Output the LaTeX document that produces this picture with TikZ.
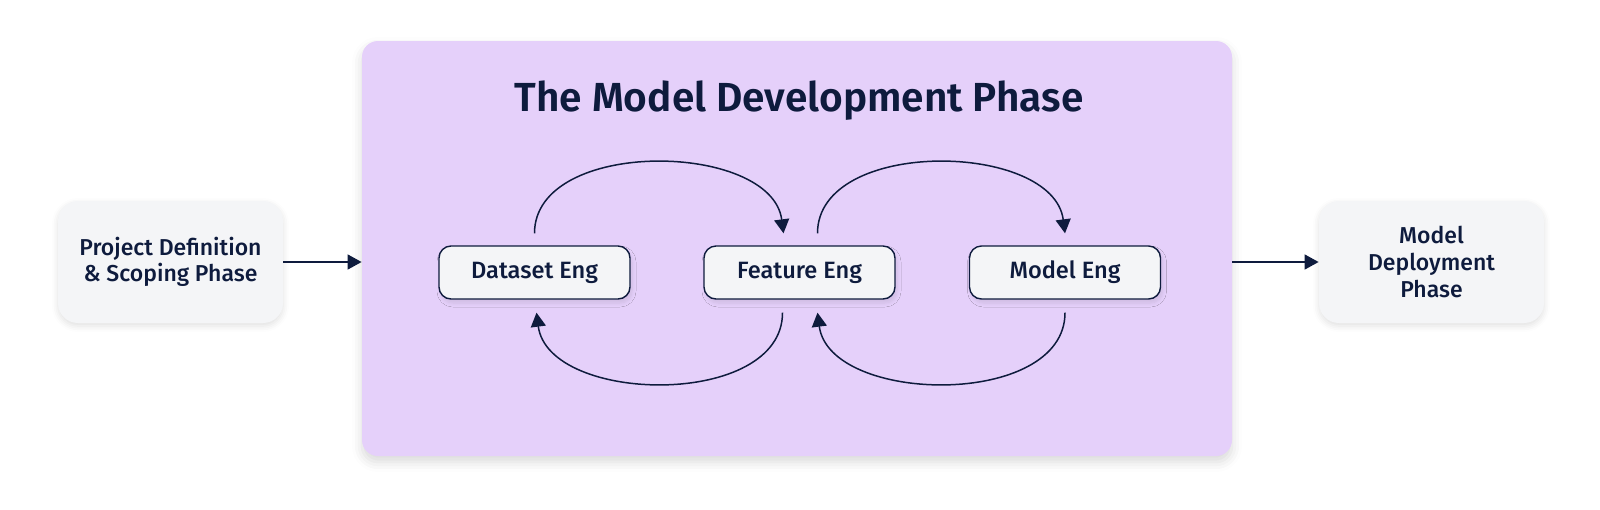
\documentclass[tikz,border=0pt]{standalone}
\usepackage{fontspec}
\setmainfont{Fira Sans}[UprightFont=* Medium,BoldFont=* SemiBold]
\definecolor{ink}{HTML}{0E1B3D}
\definecolor{lilac}{HTML}{E5D0FA}
\definecolor{paper}{HTML}{F4F5F7}
\usetikzlibrary{arrows.meta,positioning,shadows.blur}
\tikzset{
  >={Triangle[length=7pt,width=7.5pt]},
  engbox/.style={draw=ink,line width=0.7pt,rounded corners=6pt,fill=paper,minimum width=95.5pt,minimum height=26.5pt,font=\fontsize{11.8}{13}\selectfont,text=ink,blur shadow={shadow xshift=1pt,shadow yshift=-2pt,shadow blur radius=2pt,shadow blur steps=6,shadow opacity=10}},
  phasebox/.style={rounded corners=10pt,fill=paper,minimum width=112.5pt,minimum height=61pt,font=\fontsize{11.5}{13.3}\selectfont,text=ink,align=center,blur shadow={shadow xshift=0pt,shadow yshift=-1.5pt,shadow blur radius=3pt,shadow opacity=12}},
  arr/.style={->,draw=ink,line width=0.75pt},
}
\begin{document}
\begin{tikzpicture}[x=0.5pt,y=-0.5pt]
\useasboundingbox (0,0) rectangle (1600,509);
% frame of the middle phase
\node[rounded corners=8pt,fill=lilac,minimum width=435pt,minimum height=207.5pt,blur shadow={shadow xshift=0pt,shadow yshift=-3pt,shadow blur radius=5pt,shadow opacity=15}] (dev) at (797,248.5) {};
\node[font=\bfseries\fontsize{20.3}{22}\selectfont,text=ink] (title) at (799,101) {The Model Development Phase};
% outer phases
\node[phasebox] (scope) at (170.5,262) {Project Definition\\\& Scoping Phase};
\node[phasebox] (deploy) at (1431.5,262) {Model\\Deployment\\Phase};
% engineering steps
\node[engbox] (ds) at (534.5,272.5) {Dataset Eng};
\node[engbox] (fe) at (799.5,272.5) {Feature Eng};
\node[engbox] (me) at (1065,272.5) {Model Eng};
\draw[arr] (scope.east) -- (scope.east -| dev.west);
\draw[arr] (deploy.west -| dev.east) -- (deploy.west);
% loops
\draw[arr] ([yshift=6pt]ds.north) .. controls +(0,48pt) and +(-6pt,46pt) .. ([xshift=-8pt,yshift=6pt]fe.north);
\draw[arr] ([xshift=9pt,yshift=6pt]fe.north) .. controls +(0,48pt) and +(-6pt,46pt) .. ([yshift=6pt]me.north);
\draw[arr] ([xshift=-8.5pt,yshift=-6.5pt]fe.south) .. controls +(0,-48pt) and +(6pt,-46pt) .. ([xshift=1pt,yshift=-6.5pt]ds.south);
\draw[arr] ([yshift=-6.5pt]me.south) .. controls +(0,-48pt) and +(6pt,-46pt) .. ([xshift=9pt,yshift=-6.5pt]fe.south);
\end{tikzpicture}
\end{document}
